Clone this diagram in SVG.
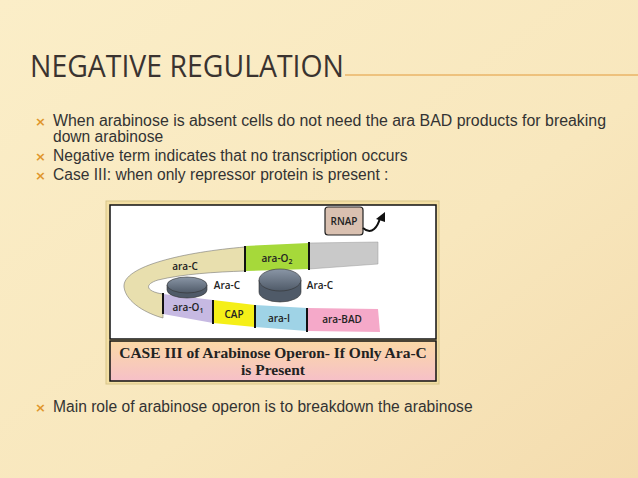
<svg xmlns="http://www.w3.org/2000/svg" width="638" height="478" viewBox="0 0 638 478">
<defs>
<linearGradient id="bg" x1="0" y1="0" x2="1" y2="1"><stop offset="0" stop-color="#fbeec8"/><stop offset="0.6" stop-color="#f8e7bd"/><stop offset="1" stop-color="#f4dcae"/></linearGradient>
<linearGradient id="cap" x1="0" y1="0" x2="0" y2="1"><stop offset="0" stop-color="#fbd9a6"/><stop offset="1" stop-color="#f6c0c8"/></linearGradient>
<linearGradient id="disc" x1="0" y1="0" x2="0" y2="1"><stop offset="0" stop-color="#8a96a6"/><stop offset="1" stop-color="#4f5a68"/></linearGradient>
<style>
.b{font-family:"Liberation Sans",Arial,sans-serif;font-size:15.6px;fill:#333}
.x{font-family:"DejaVu Sans",sans-serif;font-size:13px;fill:#e0962a;font-weight:bold}
.l{font-family:"Open Sans","DejaVu Sans",sans-serif;font-size:10px;font-weight:600;fill:#222}
.sep{stroke:#111;stroke-width:2}
</style>
</defs>
<rect width="638" height="478" fill="url(#bg)"/>
<text x="30" y="77" font-family="'Open Sans',sans-serif" font-size="31" fill="#3a3330" textLength="314" lengthAdjust="spacingAndGlyphs">NEGATIVE REGULATION</text>
<line x1="345" y1="75" x2="638" y2="75" stroke="#e39a3a" stroke-width="1"/>
<g id="bullets">
<text class="x" x="35" y="126">×</text><text class="b" x="53" y="126" textLength="553" lengthAdjust="spacingAndGlyphs">When arabinose is absent cells do not need the ara BAD products for breaking</text>
<text class="b" x="53" y="142">down arabinose</text>
<text class="x" x="35" y="161">×</text><text class="b" x="53" y="161">Negative term indicates that no transcription occurs</text>
<text class="x" x="35" y="180">×</text><text class="b" x="53" y="180">Case III: when only repressor protein is present :</text>
<text class="x" x="35" y="412">×</text><text class="b" x="53" y="412">Main role of arabinose operon is to breakdown the arabinose</text>
</g>
<g id="figure">
<rect x="106" y="201" width="333" height="183" fill="#f3dfa4" stroke="#d8c58a"/>
<rect x="110" y="205" width="326" height="134" fill="#fff" stroke="#111" stroke-width="1.5"/>
<rect x="110" y="341" width="326" height="40" fill="url(#cap)" stroke="#111" stroke-width="1.5"/>
<text x="273" y="358" text-anchor="middle" font-family="'Liberation Serif',serif" font-weight="bold" font-size="15.5" fill="#222">CASE III of Arabinose Operon- If Only Ara-C</text>
<text x="273" y="375" text-anchor="middle" font-family="'Liberation Serif',serif" font-weight="bold" font-size="15.5" fill="#222">is Present</text>
</g>
<g id="dna">
<path d="M245,247 C185,252 122,266 124,287 C126,303 148,314 163,318 L163,294 C148,292 142,285 158,280 C183,274 215,272 245,271 Z" fill="#e8dfae" stroke="#777" stroke-width="0.6"/>
<polygon points="245,246 309,243 309,269 245,271" fill="#a6d93a"/>
<polygon points="309,243 378,242 378,264 309,269" fill="#c9c9c9" stroke="#999" stroke-width="0.5"/>
<polygon points="163,294 213,300 213,323 163,314" fill="#c6b9e2"/>
<polygon points="213,300 255,305 255,327 213,323" fill="#f5ef18"/>
<polygon points="255,305 307,308 307,331 255,327" fill="#9fd3e6"/>
<polygon points="307,308 378,309 380,332 307,331" fill="#f5a9c9"/>
<line class="sep" x1="245" y1="246" x2="245" y2="272"/>
<line class="sep" x1="309" y1="242" x2="309" y2="270"/>
<line class="sep" x1="163" y1="293" x2="163" y2="314"/>
<line class="sep" x1="213" y1="300" x2="213" y2="324"/>
<line class="sep" x1="255" y1="305" x2="255" y2="328"/>
<line class="sep" x1="307" y1="308" x2="307" y2="332"/>
<text class="l" x="185" y="270" text-anchor="middle">ara-C</text>
<text class="l" x="277" y="262" text-anchor="middle">ara-O<tspan font-size="7" dy="2">2</tspan></text>
<text class="l" x="188" y="311" text-anchor="middle">ara-O<tspan font-size="7" dy="2">1</tspan></text>
<text class="l" x="234" y="318" text-anchor="middle">CAP</text>
<text class="l" x="279" y="322" text-anchor="middle">ara-I</text>
<text class="l" x="342" y="323" text-anchor="middle">ara-BAD</text>
</g>
<g id="araC1">
<path d="M167,285 L167,290 A20,8 0 0 0 207,290 L207,285 Z" fill="#4f5a68" stroke="#333" stroke-width="0.6"/>
<ellipse cx="187" cy="285" rx="20" ry="8" fill="url(#disc)" stroke="#333" stroke-width="0.6"/>
<text class="l" x="227" y="289" text-anchor="middle">Ara-C</text>
</g>
<g id="araC2">
<path d="M259,280 L259,292 A21,10 0 0 0 301,292 L301,280 Z" fill="#4f5a68" stroke="#333" stroke-width="0.6"/>
<ellipse cx="280" cy="280" rx="21" ry="11" fill="url(#disc)" stroke="#333" stroke-width="0.6"/>
<text class="l" x="320" y="289" text-anchor="middle">Ara-C</text>
</g>
<g id="rnap">
<rect x="325" y="207" width="38" height="28" rx="3" fill="#d9c0b0" stroke="#222" stroke-width="1.2"/>
<text class="l" x="344" y="225" text-anchor="middle" font-size="9">RNAP</text>
</g>
<g id="connectors">
<path d="M363,228 C372,236 378,226 380,218" fill="none" stroke="#111" stroke-width="2"/>
<polygon points="376,219 385,212 385,222" fill="#111"/>
</g>
</svg>
